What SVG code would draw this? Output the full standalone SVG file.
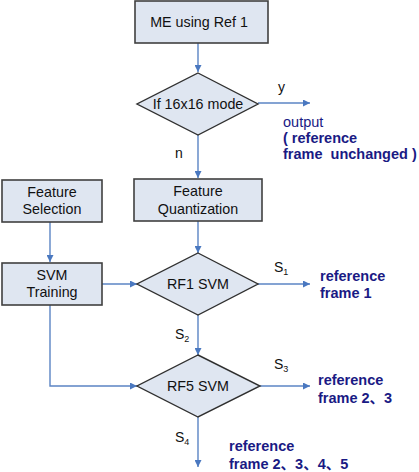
<svg xmlns="http://www.w3.org/2000/svg" width="419" height="472" viewBox="0 0 419 472">
  <style>
    .box { fill: #dfe6f1; stroke: #404040; stroke-width: 1.6; }
    .dia { fill: #dfe6f1; stroke: #303030; stroke-width: 1.4; }
    .lbl { font-family: "Liberation Sans", Arial, sans-serif; font-size: 14.3px; fill: #111; text-anchor: middle; }
    .edge { font-family: "Liberation Sans", Arial, sans-serif; font-size: 14px; fill: #111; }
    .sub { font-size: 9px; }
    .out { font-family: "Liberation Sans", Arial, "Noto Sans CJK SC", sans-serif; font-size: 14.5px; fill: #1a1a84; font-weight: bold; }
    .outn { font-weight: normal; }
    .conn { fill: none; stroke: #5b84c4; stroke-width: 1.4; marker-end: url(#arr); }
  </style>
  <defs>
    <marker id="arr" viewBox="0 0 10 10" refX="10" refY="5" markerWidth="7" markerHeight="7" orient="auto" markerUnits="userSpaceOnUse">
      <path d="M0,0 L10,5 L0,10 Z" fill="#4a78c0"/>
    </marker>
  </defs>
  <rect width="419" height="472" fill="#ffffff"/>

  <!-- connectors and their edge labels -->
  <g id="connectors">
    <path class="conn" d="M198,43 V72"/>
    <path class="conn" d="M258,103 H310"/>
    <path class="conn" d="M198,135 V178"/>
    <path class="conn" d="M50,222 V262"/>
    <path class="conn" d="M198,221 V253"/>
    <path class="conn" d="M102,284 H137"/>
    <path class="conn" d="M258,284 H310"/>
    <path class="conn" d="M198,315 V355"/>
    <path class="conn" d="M50,305 V386 H137"/>
    <path class="conn" d="M260,386 H310"/>
    <path class="conn" d="M198,417 V467"/>

    <text class="edge" x="278" y="92">y</text>
    <text class="edge" x="175" y="158">n</text>
    <text class="edge" x="274" y="272">S<tspan class="sub" dy="3">1</tspan></text>
    <text class="edge" x="175" y="339">S<tspan class="sub" dy="3">2</tspan></text>
    <text class="edge" x="274" y="369">S<tspan class="sub" dy="3">3</tspan></text>
    <text class="edge" x="175" y="442">S<tspan class="sub" dy="3">4</tspan></text>
  </g>

  <g id="me-ref1">
    <rect class="box" x="135" y="1" width="133" height="42"/>
    <text class="lbl" x="199" y="27">ME using Ref 1</text>
  </g>

  <g id="mode-check">
    <polygon class="dia" points="198,73 258,104 198,135 137,104"/>
    <text class="lbl" x="198" y="109">If 16x16 mode</text>
  </g>

  <g id="output-unchanged">
    <text class="out" x="283" y="127"><tspan class="outn">output</tspan></text>
    <text class="out" x="283" y="143">( reference</text>
    <text class="out" x="283" y="159" xml:space="preserve">frame  unchanged )</text>
  </g>

  <g id="feature-selection">
    <rect class="box" x="2" y="180" width="100" height="42"/>
    <text class="lbl" x="52" y="197">Feature</text>
    <text class="lbl" x="52" y="214">Selection</text>
  </g>

  <g id="feature-quantization">
    <rect class="box" x="134" y="179" width="128" height="42"/>
    <text class="lbl" x="198" y="196">Feature</text>
    <text class="lbl" x="198" y="214">Quantization</text>
  </g>

  <g id="svm-training">
    <rect class="box" x="2" y="263" width="100" height="42"/>
    <text class="lbl" x="52" y="280">SVM</text>
    <text class="lbl" x="52" y="297">Training</text>
  </g>

  <g id="rf1-svm">
    <polygon class="dia" points="198,253 258,284 198,315 137,284"/>
    <text class="lbl" x="198" y="289">RF1 SVM</text>
  </g>

  <g id="ref-frame-1">
    <text class="out" x="320" y="281">reference</text>
    <text class="out" x="320" y="298">frame 1</text>
  </g>

  <g id="rf5-svm">
    <polygon class="dia" points="198,355 260,386 198,417 137,386"/>
    <text class="lbl" x="198" y="391">RF5 SVM</text>
  </g>

  <g id="ref-frame-23">
    <text class="out" x="318" y="385">reference</text>
    <text class="out" x="318" y="403">frame 2、3</text>
  </g>

  <g id="ref-frame-2345">
    <text class="out" x="229" y="451">reference</text>
    <text class="out" x="229" y="469">frame 2、3、4、5</text>
  </g>
</svg>
